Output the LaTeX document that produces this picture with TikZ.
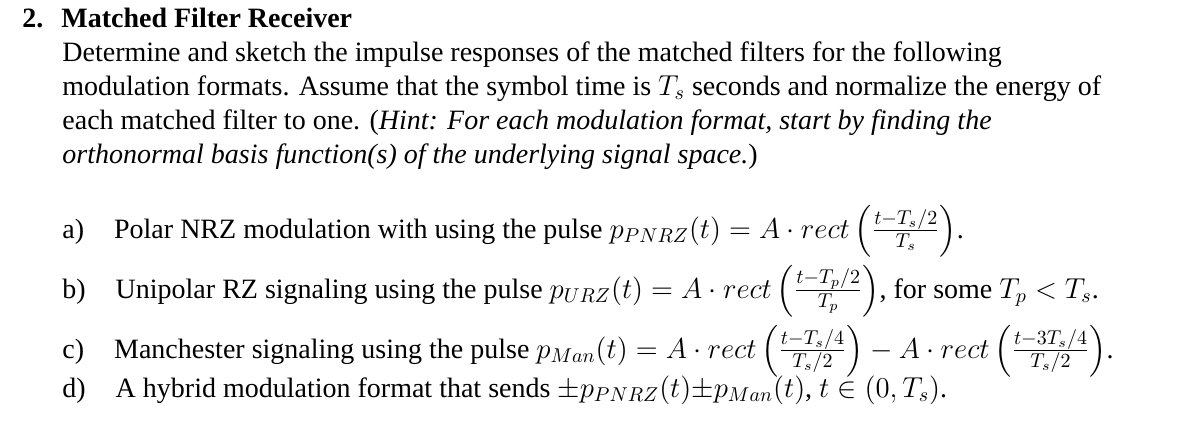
\documentclass[tikz,border=0pt]{standalone}
\usepackage{amsmath}
\usepackage{fontspec}
\setmainfont{Liberation Serif}
\begin{document}
\begin{tikzpicture}[x=0.5pt,y=-0.5pt,txt/.style={anchor=base west,inner sep=0pt,font=\fontsize{14}{16}\selectfont}]
\useasboundingbox (0,0) rectangle (1190,429);
\node[txt,font=\fontsize{14}{16}\selectfont\bfseries] (t0) at (22,27) {2.\hspace{9pt}Matched Filter Receiver};
\node[txt] (t1) at (62,61) {Determine and sketch the impulse responses of the matched filters for the following};
\node[txt] (t2) at (62,95) {modulation formats. Assume that the symbol time is $T_s$ seconds and normalize the energy of};
\node[txt] (t3) at (62,129) {each matched filter to one. (\textit{Hint: For each modulation format, start by finding the}};
\node[txt] (t4) at (62,163) {\textit{orthonormal basis function(s) of the underlying signal space.})};
\node[txt] (a) at (62,238) {a)\hspace{15pt}Polar NRZ modulation with using the pulse $p_{PNRZ}(t)=A\cdot rect\left(\frac{t-T_s/2}{T_s}\right)$.};
\node[txt] (b) at (62,298) {b)\hspace{15pt}Unipolar RZ signaling using the pulse $p_{URZ}(t)=A\cdot rect\left(\frac{t-T_p/2}{T_p}\right)$, for some $T_p<T_s$.};
\node[txt] (c) at (62,358) {c)\hspace{15pt}Manchester signaling using the pulse $p_{Man}(t)=A\cdot rect\left(\frac{t-T_s/4}{T_s/2}\right)-A\cdot rect\left(\frac{t-3T_s/4}{T_s/2}\right)$.};
\node[txt] (d) at (62,397) {d)\hspace{15pt}A hybrid modulation format that sends ${\pm}p_{PNRZ}(t){\pm}p_{Man}(t)$, $t\in(0,T_s)$.};
\end{tikzpicture}
\end{document}
